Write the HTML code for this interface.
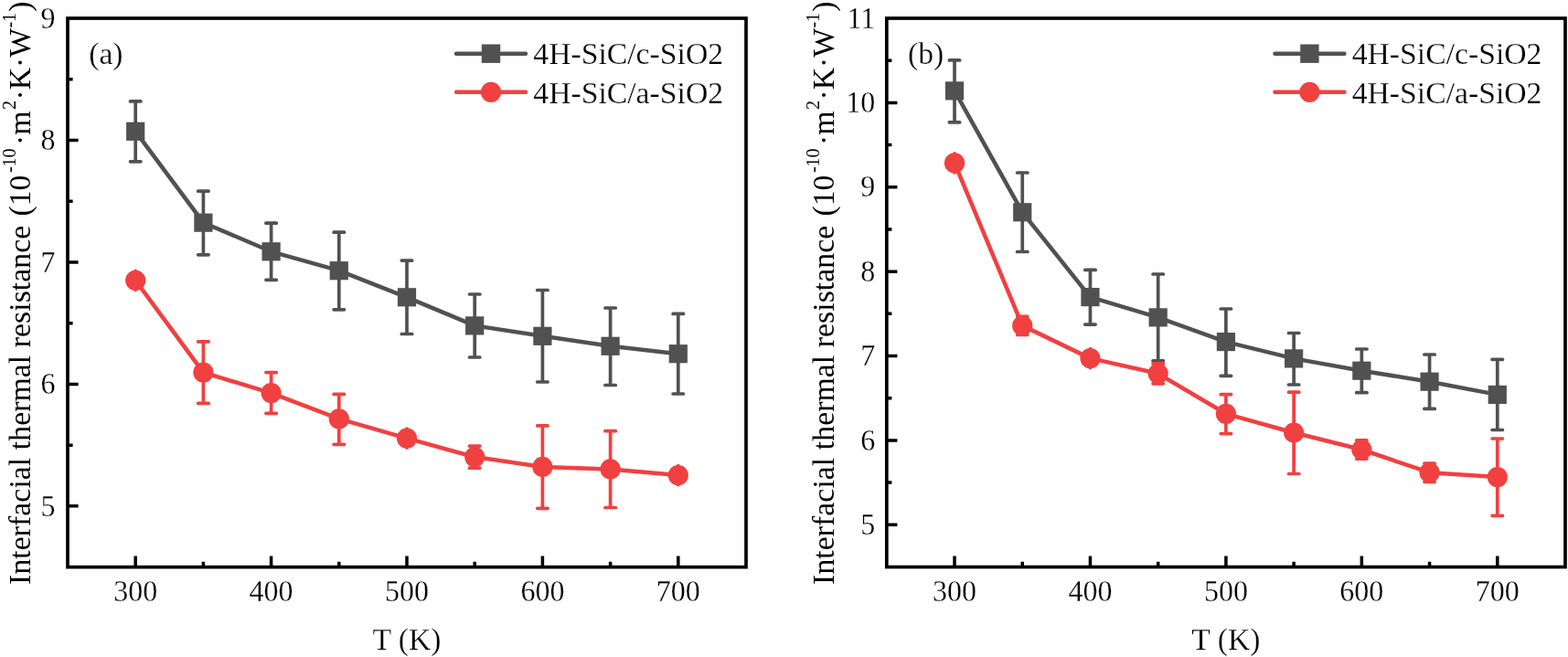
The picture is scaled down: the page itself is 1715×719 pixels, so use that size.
<!DOCTYPE html>
<html lang="en">
<head>
<meta charset="utf-8">
<title>Interfacial thermal resistance</title>
<style>
html,body{margin:0;padding:0;background:#fff;}
body{width:1715px;height:719px;overflow:hidden;}
svg{display:block;}
text{font-family:"Liberation Serif","Times New Roman",serif;font-size:33.7px;fill:#000;stroke:#fff;stroke-width:0.25px;stroke-linejoin:round;}
.sup{font-size:20px;stroke:none;}
.tk{font-size:32px;}
.yt{stroke:none;}
</style>
</head>
<body>
<svg width="1715" height="719" viewBox="0 0 1715 719">
<rect width="1715" height="719" fill="#fff"/>
<g>
<path d="M148.2 143.8 L222.4 243.7 L296.6 275.3 L370.8 296.2 L445 325.3 L519.2 356.4 L593.4 367.8 L667.6 378.8 L741.8 387.2" fill="none" stroke="#515151" stroke-width="4.5" stroke-linejoin="round"/>
<path d="M148.2 110.9V176.8M142.5 110.9h11.4M142.5 176.8h11.4" fill="none" stroke="#515151" stroke-width="3.7" stroke-linecap="round"/>
<path d="M222.4 209.2V278.8M216.7 209.2h11.4M216.7 278.8h11.4" fill="none" stroke="#515151" stroke-width="3.7" stroke-linecap="round"/>
<path d="M296.6 244.2V306.3M290.9 244.2h11.4M290.9 306.3h11.4" fill="none" stroke="#515151" stroke-width="3.7" stroke-linecap="round"/>
<path d="M370.8 254.2V338.8M365.1 254.2h11.4M365.1 338.8h11.4" fill="none" stroke="#515151" stroke-width="3.7" stroke-linecap="round"/>
<path d="M445 285.1V365.5M439.3 285.1h11.4M439.3 365.5h11.4" fill="none" stroke="#515151" stroke-width="3.7" stroke-linecap="round"/>
<path d="M519.2 322V391M513.5 322h11.4M513.5 391h11.4" fill="none" stroke="#515151" stroke-width="3.7" stroke-linecap="round"/>
<path d="M593.4 317.5V418M587.7 317.5h11.4M587.7 418h11.4" fill="none" stroke="#515151" stroke-width="3.7" stroke-linecap="round"/>
<path d="M667.6 337V421.5M661.9 337h11.4M661.9 421.5h11.4" fill="none" stroke="#515151" stroke-width="3.7" stroke-linecap="round"/>
<path d="M741.8 343.4V431M736.1 343.4h11.4M736.1 431h11.4" fill="none" stroke="#515151" stroke-width="3.7" stroke-linecap="round"/>
<rect x="138.1" y="133.7" width="20.2" height="20.2" fill="#515151"/>
<rect x="212.3" y="233.6" width="20.2" height="20.2" fill="#515151"/>
<rect x="286.5" y="265.2" width="20.2" height="20.2" fill="#515151"/>
<rect x="360.7" y="286.1" width="20.2" height="20.2" fill="#515151"/>
<rect x="434.9" y="315.2" width="20.2" height="20.2" fill="#515151"/>
<rect x="509.1" y="346.3" width="20.2" height="20.2" fill="#515151"/>
<rect x="583.3" y="357.7" width="20.2" height="20.2" fill="#515151"/>
<rect x="657.5" y="368.7" width="20.2" height="20.2" fill="#515151"/>
<rect x="731.7" y="377.1" width="20.2" height="20.2" fill="#515151"/>
<path d="M148.2 306.8 L222.4 407.6 L296.6 430.1 L370.8 458.4 L445 479.6 L519.2 500.1 L593.4 510.9 L667.6 513.4 L741.8 520.1" fill="none" stroke="#f14040" stroke-width="4.5" stroke-linejoin="round"/>
<path d="M148.2 296.3V317.3" fill="none" stroke="#f14040" stroke-width="3.7" stroke-linecap="round"/>
<path d="M222.4 373.9V441.4M216.7 373.9h11.4M216.7 441.4h11.4" fill="none" stroke="#f14040" stroke-width="3.7" stroke-linecap="round"/>
<path d="M296.6 407.6V452.3M290.9 407.6h11.4M290.9 452.3h11.4" fill="none" stroke="#f14040" stroke-width="3.7" stroke-linecap="round"/>
<path d="M370.8 431.4V486.4M365.1 431.4h11.4M365.1 486.4h11.4" fill="none" stroke="#f14040" stroke-width="3.7" stroke-linecap="round"/>
<path d="M445 469.1V490.1" fill="none" stroke="#f14040" stroke-width="3.7" stroke-linecap="round"/>
<path d="M519.2 488.1V512.2M513.5 488.1h11.4M513.5 512.2h11.4" fill="none" stroke="#f14040" stroke-width="3.7" stroke-linecap="round"/>
<path d="M593.4 465.9V556.3M587.7 465.9h11.4M587.7 556.3h11.4" fill="none" stroke="#f14040" stroke-width="3.7" stroke-linecap="round"/>
<path d="M667.6 471.7V555.5M661.9 471.7h11.4M661.9 555.5h11.4" fill="none" stroke="#f14040" stroke-width="3.7" stroke-linecap="round"/>
<path d="M741.8 509.6V530.6" fill="none" stroke="#f14040" stroke-width="3.7" stroke-linecap="round"/>
<circle cx="148.2" cy="306.8" r="11.1" fill="#f14040"/>
<circle cx="222.4" cy="407.6" r="11.1" fill="#f14040"/>
<circle cx="296.6" cy="430.1" r="11.1" fill="#f14040"/>
<circle cx="370.8" cy="458.4" r="11.1" fill="#f14040"/>
<circle cx="445" cy="479.6" r="11.1" fill="#f14040"/>
<circle cx="519.2" cy="500.1" r="11.1" fill="#f14040"/>
<circle cx="593.4" cy="510.9" r="11.1" fill="#f14040"/>
<circle cx="667.6" cy="513.4" r="11.1" fill="#f14040"/>
<circle cx="741.8" cy="520.1" r="11.1" fill="#f14040"/>
<rect x="74" y="20" width="742" height="600.6" fill="none" stroke="#000" stroke-width="3.7"/>
<path d="M148.2 620.6v-12.1M222.4 620.6v-5.8M296.6 620.6v-12.1M370.8 620.6v-5.8M445 620.6v-12.1M519.2 620.6v-5.8M593.4 620.6v-12.1M667.6 620.6v-5.8M741.8 620.6v-12.1M74 86.73h5.6M74 153.47h11.6M74 220.2h5.6M74 286.93h11.6M74 353.67h5.6M74 420.4h11.6M74 487.13h5.6M74 553.87h11.6" fill="none" stroke="#000" stroke-width="3.5"/>
<text class="tk" transform="translate(148.2 658.3) scale(1 1.04)" text-anchor="middle">300</text>
<text class="tk" transform="translate(296.6 658.3) scale(1 1.04)" text-anchor="middle">400</text>
<text class="tk" transform="translate(445 658.3) scale(1 1.04)" text-anchor="middle">500</text>
<text class="tk" transform="translate(593.4 658.3) scale(1 1.04)" text-anchor="middle">600</text>
<text class="tk" transform="translate(741.8 658.3) scale(1 1.04)" text-anchor="middle">700</text>
<text class="tk" transform="translate(60.6 30.7) scale(1 1.05)" text-anchor="end">9</text>
<text class="tk" transform="translate(60.6 164.17) scale(1 1.05)" text-anchor="end">8</text>
<text class="tk" transform="translate(60.6 297.63) scale(1 1.05)" text-anchor="end">7</text>
<text class="tk" transform="translate(60.6 431.1) scale(1 1.05)" text-anchor="end">6</text>
<text class="tk" transform="translate(60.6 564.57) scale(1 1.05)" text-anchor="end">5</text>
<text x="445" y="711.3" text-anchor="middle">T (K)</text>
<text class="yt" transform="translate(33 0) rotate(-90)"><tspan x="-639.9" textLength="393.1" lengthAdjust="spacing">Interfacial thermal resistance</tspan><tspan x="-236.5">(10</tspan><tspan class="sup" x="-189.1" dy="-16">-10</tspan><tspan x="-159" dy="16">·m</tspan><tspan class="sup" x="-120" dy="-16">2</tspan><tspan x="-109.5" dy="16">·K·W</tspan><tspan class="sup" x="-30.6" dy="-16">-1</tspan><tspan x="-12.8" dy="16">)</tspan></text>
<text x="97.2" y="70.4">(a)</text>
<path d="M499 58.7h76" stroke="#515151" stroke-width="4.4" stroke-linecap="round"/>
<rect x="526.8" y="48.5" width="20.4" height="20.4" fill="#515151"/>
<text x="583.3" y="70.2">4H-SiC/c-SiO2</text>
<path d="M499 100.8h76" stroke="#f14040" stroke-width="4.4" stroke-linecap="round"/>
<circle cx="537" cy="100.8" r="11.1" fill="#f14040"/>
<text x="583.3" y="112.7">4H-SiC/a-SiO2</text>
</g>
<g>
<path d="M1044.02 99.4 L1118.24 232.3 L1192.46 325.1 L1266.68 347.4 L1340.9 374.1 L1415.12 392.4 L1489.34 405.7 L1563.56 417.7 L1637.78 431.9" fill="none" stroke="#515151" stroke-width="4.5" stroke-linejoin="round"/>
<path d="M1044.02 65.9V133.8M1038.32 65.9h11.4M1038.32 133.8h11.4" fill="none" stroke="#515151" stroke-width="3.7" stroke-linecap="round"/>
<path d="M1118.24 189V275.5M1112.54 189h11.4M1112.54 275.5h11.4" fill="none" stroke="#515151" stroke-width="3.7" stroke-linecap="round"/>
<path d="M1192.46 295.4V355.1M1186.76 295.4h11.4M1186.76 355.1h11.4" fill="none" stroke="#515151" stroke-width="3.7" stroke-linecap="round"/>
<path d="M1266.68 300V394.8M1260.98 300h11.4M1260.98 394.8h11.4" fill="none" stroke="#515151" stroke-width="3.7" stroke-linecap="round"/>
<path d="M1340.9 338V411.3M1335.2 338h11.4M1335.2 411.3h11.4" fill="none" stroke="#515151" stroke-width="3.7" stroke-linecap="round"/>
<path d="M1415.12 364.5V421M1409.42 364.5h11.4M1409.42 421h11.4" fill="none" stroke="#515151" stroke-width="3.7" stroke-linecap="round"/>
<path d="M1489.34 382V429.7M1483.64 382h11.4M1483.64 429.7h11.4" fill="none" stroke="#515151" stroke-width="3.7" stroke-linecap="round"/>
<path d="M1563.56 388V447.4M1557.86 388h11.4M1557.86 447.4h11.4" fill="none" stroke="#515151" stroke-width="3.7" stroke-linecap="round"/>
<path d="M1637.78 393.4V470.5M1632.08 393.4h11.4M1632.08 470.5h11.4" fill="none" stroke="#515151" stroke-width="3.7" stroke-linecap="round"/>
<rect x="1033.92" y="89.3" width="20.2" height="20.2" fill="#515151"/>
<rect x="1108.14" y="222.2" width="20.2" height="20.2" fill="#515151"/>
<rect x="1182.36" y="315" width="20.2" height="20.2" fill="#515151"/>
<rect x="1256.58" y="337.3" width="20.2" height="20.2" fill="#515151"/>
<rect x="1330.8" y="364" width="20.2" height="20.2" fill="#515151"/>
<rect x="1405.02" y="382.3" width="20.2" height="20.2" fill="#515151"/>
<rect x="1479.24" y="395.6" width="20.2" height="20.2" fill="#515151"/>
<rect x="1553.46" y="407.6" width="20.2" height="20.2" fill="#515151"/>
<rect x="1627.68" y="421.8" width="20.2" height="20.2" fill="#515151"/>
<path d="M1044.02 178.4 L1118.24 356.4 L1192.46 392.1 L1266.68 408.8 L1340.9 452.8 L1415.12 473.5 L1489.34 492 L1563.56 517.2 L1637.78 522.1" fill="none" stroke="#f14040" stroke-width="4.5" stroke-linejoin="round"/>
<path d="M1044.02 167.9V188.9" fill="none" stroke="#f14040" stroke-width="3.7" stroke-linecap="round"/>
<path d="M1112.64 346.3h11.2M1112.64 366.5h11.2" fill="none" stroke="#f14040" stroke-width="3.7" stroke-linecap="round"/>
<path d="M1192.46 381.6V402.6" fill="none" stroke="#f14040" stroke-width="3.7" stroke-linecap="round"/>
<path d="M1266.68 397.9V419.8M1260.98 397.9h11.4M1260.98 419.8h11.4" fill="none" stroke="#f14040" stroke-width="3.7" stroke-linecap="round"/>
<path d="M1340.9 431.7V474.6M1335.2 431.7h11.4M1335.2 474.6h11.4" fill="none" stroke="#f14040" stroke-width="3.7" stroke-linecap="round"/>
<path d="M1415.12 429.2V518.5M1409.42 429.2h11.4M1409.42 518.5h11.4" fill="none" stroke="#f14040" stroke-width="3.7" stroke-linecap="round"/>
<path d="M1483.74 481.9h11.2M1483.74 502.1h11.2" fill="none" stroke="#f14040" stroke-width="3.7" stroke-linecap="round"/>
<path d="M1557.96 507.1h11.2M1557.96 527.3h11.2" fill="none" stroke="#f14040" stroke-width="3.7" stroke-linecap="round"/>
<path d="M1637.78 480V564.3M1632.08 480h11.4M1632.08 564.3h11.4" fill="none" stroke="#f14040" stroke-width="3.7" stroke-linecap="round"/>
<circle cx="1044.02" cy="178.4" r="11.1" fill="#f14040"/>
<circle cx="1118.24" cy="356.4" r="11.1" fill="#f14040"/>
<circle cx="1192.46" cy="392.1" r="11.1" fill="#f14040"/>
<circle cx="1266.68" cy="408.8" r="11.1" fill="#f14040"/>
<circle cx="1340.9" cy="452.8" r="11.1" fill="#f14040"/>
<circle cx="1415.12" cy="473.5" r="11.1" fill="#f14040"/>
<circle cx="1489.34" cy="492" r="11.1" fill="#f14040"/>
<circle cx="1563.56" cy="517.2" r="11.1" fill="#f14040"/>
<circle cx="1637.78" cy="522.1" r="11.1" fill="#f14040"/>
<rect x="969.8" y="20" width="742.2" height="600.5" fill="none" stroke="#000" stroke-width="3.7"/>
<path d="M1044.02 620.5v-12.1M1118.24 620.5v-5.8M1192.46 620.5v-12.1M1266.68 620.5v-5.8M1340.9 620.5v-12.1M1415.12 620.5v-5.8M1489.34 620.5v-12.1M1563.56 620.5v-5.8M1637.78 620.5v-12.1M969.8 66.19h5.6M969.8 112.38h11.6M969.8 158.58h5.6M969.8 204.77h11.6M969.8 250.96h5.6M969.8 297.15h11.6M969.8 343.35h5.6M969.8 389.54h11.6M969.8 435.73h5.6M969.8 481.92h11.6M969.8 528.12h5.6M969.8 574.31h11.6" fill="none" stroke="#000" stroke-width="3.5"/>
<text class="tk" transform="translate(1044.02 658.3) scale(1 1.04)" text-anchor="middle">300</text>
<text class="tk" transform="translate(1192.46 658.3) scale(1 1.04)" text-anchor="middle">400</text>
<text class="tk" transform="translate(1340.9 658.3) scale(1 1.04)" text-anchor="middle">500</text>
<text class="tk" transform="translate(1489.34 658.3) scale(1 1.04)" text-anchor="middle">600</text>
<text class="tk" transform="translate(1637.78 658.3) scale(1 1.04)" text-anchor="middle">700</text>
<text class="tk" transform="translate(957.3 30.7) scale(1 1.05)" text-anchor="end">11</text>
<text class="tk" transform="translate(957.3 123.08) scale(1 1.05)" text-anchor="end">10</text>
<text class="tk" transform="translate(957.3 215.47) scale(1 1.05)" text-anchor="end">9</text>
<text class="tk" transform="translate(957.3 307.85) scale(1 1.05)" text-anchor="end">8</text>
<text class="tk" transform="translate(957.3 400.24) scale(1 1.05)" text-anchor="end">7</text>
<text class="tk" transform="translate(957.3 492.62) scale(1 1.05)" text-anchor="end">6</text>
<text class="tk" transform="translate(957.3 585.01) scale(1 1.05)" text-anchor="end">5</text>
<text x="1340.9" y="711.3" text-anchor="middle">T (K)</text>
<text class="yt" transform="translate(912.1 0) rotate(-90)"><tspan x="-639.9" textLength="393.1" lengthAdjust="spacing">Interfacial thermal resistance</tspan><tspan x="-236.5">(10</tspan><tspan class="sup" x="-189.1" dy="-16">-10</tspan><tspan x="-159" dy="16">·m</tspan><tspan class="sup" x="-120" dy="-16">2</tspan><tspan x="-109.5" dy="16">·K·W</tspan><tspan class="sup" x="-30.6" dy="-16">-1</tspan><tspan x="-12.8" dy="16">)</tspan></text>
<text x="993" y="70.4">(b)</text>
<path d="M1394.4 58.7h76" stroke="#515151" stroke-width="4.4" stroke-linecap="round"/>
<rect x="1422.2" y="48.5" width="20.4" height="20.4" fill="#515151"/>
<text x="1478.7" y="70.2">4H-SiC/c-SiO2</text>
<path d="M1394.4 100.8h76" stroke="#f14040" stroke-width="4.4" stroke-linecap="round"/>
<circle cx="1432.4" cy="100.8" r="11.1" fill="#f14040"/>
<text x="1478.7" y="112.7">4H-SiC/a-SiO2</text>
</g>
</svg>
</body>
</html>
